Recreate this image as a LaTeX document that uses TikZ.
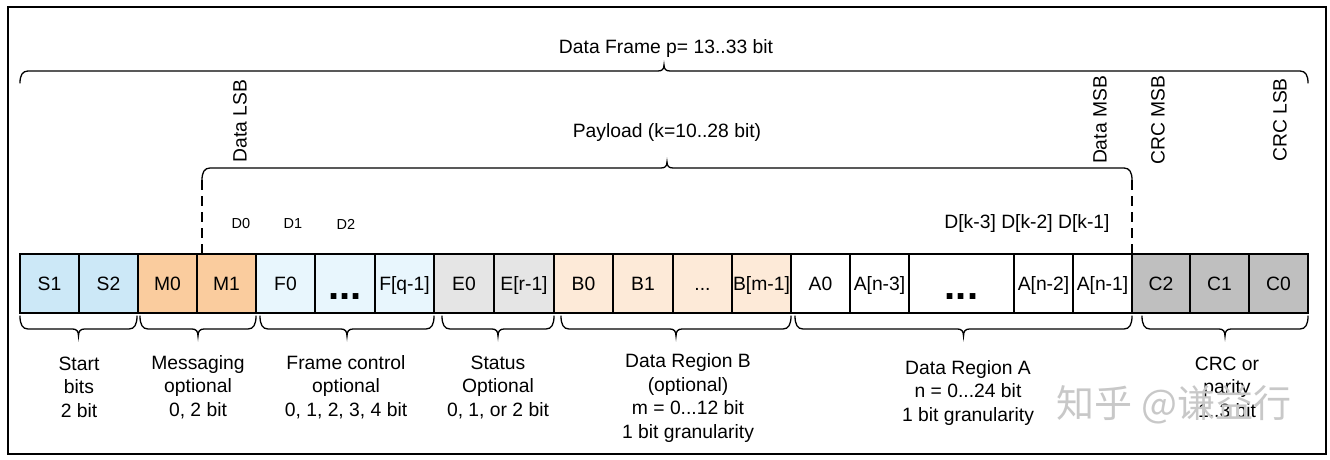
\documentclass[tikz,border=0pt]{standalone}
\usepackage{fontspec}
\setmainfont{Liberation Sans}
\newfontfamily\cjkfont{Noto Sans CJK SC}
\definecolor{sblue}{RGB}{204,232,247}
\definecolor{morange}{RGB}{250,204,158}
\definecolor{fcyan}{RGB}{232,246,253}
\definecolor{egray}{RGB}{229,229,229}
\definecolor{bpeach}{RGB}{253,234,216}
\definecolor{cgray}{RGB}{191,191,191}
\definecolor{wmark}{RGB}{200,200,200}
\newcommand\bigdots{\raisebox{-9pt}{\fontsize{40}{40}\selectfont\bfseries...}}
\newcommand\plaindots{...}
\newcommand\hbrace[5]{%
  \pgfmathsetmacro\bxm{(#1+#2)/2}%
  \draw[brc] ({#1},{#3}) .. controls ({#1},{#4+0.35*(#3-#4)}) and ({#1+2.5},{#4}) .. ({#1+8},{#4})
    -- ({\bxm-6},{#4}) .. controls ({\bxm-2},{#4}) and ({\bxm},{#4+0.3*(#5-#4)}) .. ({\bxm},{#5})
    .. controls ({\bxm},{#4+0.3*(#5-#4)}) and ({\bxm+2},{#4}) .. ({\bxm+6},{#4})
    -- ({#2-8},{#4}) .. controls ({#2-2.5},{#4}) and ({#2},{#4+0.35*(#3-#4)}) .. ({#2},{#3});}
\tikzset{
  base/.style={font=\fontsize{19.3}{23.5}\selectfont, inner sep=0pt},
  cell/.style={base, draw, line width=1.3pt, minimum height=59pt, text height=14pt, text depth=0pt, anchor=center},
  lbl/.style={base, align=center},
  smalllbl/.style={base, font=\fontsize{14.5}{17}\selectfont},
  vlbl/.style={base, rotate=90},
  brc/.style={line width=1.3pt, line cap=round},
  dsh/.style={line width=1.3pt, dash pattern=on 10pt off 6pt},
}
\begin{document}
\begin{tikzpicture}[x=1pt,y=-1pt]
\useasboundingbox (0,0) rectangle (1330,460);
\draw[line width=1.5pt] (8,7) rectangle (1326,454);

% bit cells
\foreach \n/\a/\b/\c/\t in {
  s1/20/79/sblue/S1, s2/79/138/sblue/S2,
  m0/138/197/morange/M0, m1/197/256/morange/M1,
  f0/256/315/fcyan/F0, fd/315/375/fcyan/\bigdots, fq/375/434/fcyan/F[q-1],
  e0/434/494/egray/E0, er/494/554/egray/E[r-1],
  b0/554/613/bpeach/B0, b1/613/673/bpeach/B1, bd/673/732/bpeach/\plaindots, bm/732/791/bpeach/B[m-1],
  a0/791/850/white/A0, an3/850/909/white/A[n-3], ad/909/1014/white/\bigdots, an2/1014/1073/white/A[n-2], an1/1073/1132/white/A[n-1],
  c2/1132/1190/cgray/C2, c1/1190/1249/cgray/C1, c0/1249/1308/cgray/C0}
  \node[cell, fill=\c, minimum width={(\b-\a)*1pt}] (\n) at ({(\a+\b)/2},283.5) {\t};

% top braces
\hbrace{20}{1308}{83}{71}{65}
\node[base] (frame) at (666,49) {Data Frame p= 13..33 bit};
\hbrace{202}{1132}{180}{168}{162}
\node[base] (payload) at (667,133) {Payload (k=10..28 bit)};

\coordinate (plsb) at (202,180);
\coordinate (pmsb) at (1132,180);
\draw[dsh] (plsb) -- (plsb |- m1.north);
\draw[dsh] (pmsb) -- (pmsb |- an1.north);

% vertical labels
\node[vlbl] (dlsb) at (240,121) {Data LSB};
\node[vlbl] (dmsb) at (1100,120) {Data MSB};
\node[vlbl] (cmsb) at (1158,120) {CRC MSB};
\node[vlbl] (clsb) at (1280,120) {CRC LSB};

% D labels
\node[smalllbl] (d0) at (241,224) {D0};
\node[smalllbl] (d1) at (293,224) {D1};
\node[smalllbl] (d2) at (346,224) {D2};
\node[base] (dk) at (1027,224) {D[k-3] D[k-2] D[k-1]};

% bottom braces
\hbrace{20}{137}{316}{329}{336}
\hbrace{140}{256}{316}{329}{336}
\hbrace{260}{434}{316}{329}{336}
\hbrace{442}{554}{316}{329}{336}
\hbrace{561}{791}{316}{329}{336}
\hbrace{795}{1132}{316}{329}{336}
\hbrace{1142}{1308}{316}{329}{336}

\node[lbl] (lstart) at (79,387) {Start\\bits\\2 bit};
\node[lbl] (lmsg) at (198,387) {Messaging\\optional\\0, 2 bit};
\node[lbl] (lfc) at (346,387) {Frame control\\optional\\0, 1, 2, 3, 4 bit};
\node[lbl] (lst) at (498,387) {Status\\Optional\\0, 1, or 2 bit};
\node[lbl] (lb) at (688,398) {Data Region B\\(optional)\\m = 0...12 bit\\1 bit granularity};
\node[lbl] (la) at (968,393) {Data Region A\\n = 0...24 bit\\1 bit granularity};
\node[lbl] (lcrc) at (1227,387) {CRC or\\parity\\1..3 bit};

% watermark
\node[inner sep=0pt, text=wmark, font=\cjkfont\fontsize{38}{38}\selectfont] (wm) at (1174,405) {知乎 @谦益行};
\end{tikzpicture}
\end{document}
